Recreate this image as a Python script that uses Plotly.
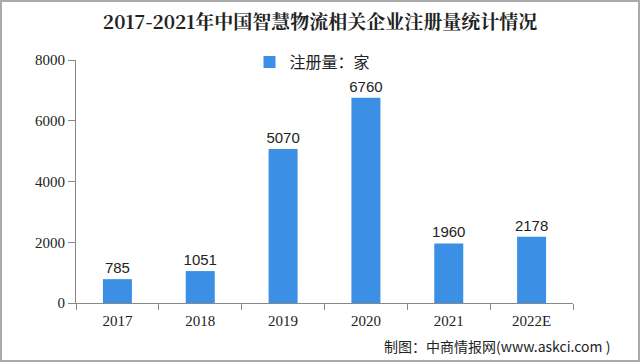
import plotly.graph_objects as go

years = ["2017", "2018", "2019", "2020", "2021", "2022E"]
counts = [785, 1051, 5070, 6760, 1960, 2178]
series_name = "注册量：家"
title = "2017-2021年中国智慧物流相关企业注册量统计情况"
source = "制图：中商情报网(www.askci.com )"

L, R, T, B = 76, 67, 60, 60
PW, PH = 640 - L - R, 363 - T - B

fig = go.Figure()
fig.add_trace(go.Bar(
    x=years, y=counts, name=series_name,
    marker=dict(color="#3b8fe4", line=dict(width=0)),
    text=[str(v) for v in counts], textposition="outside",
    constraintext="none",
    textfont=dict(family="Liberation Sans, Arial", size=15, color="#222"),
    cliponaxis=False,
))

fig.update_layout(
    width=640, height=363,
    margin=dict(l=L, r=R, t=T, b=B, autoexpand=False),
    paper_bgcolor="white", plot_bgcolor="white",
    bargap=0.65,
    showlegend=True,
    legend=dict(orientation="h", x=0.5 - 12 / PW, xanchor="center", y=(363 - B - 62) / PH,
                yanchor="middle",
                font=dict(family="Noto Sans CJK SC", size=16, color="#222"),
                itemwidth=30, bgcolor="rgba(0,0,0,0)"),
    title=dict(text="<b>" + title + "</b>", x=0.5, xanchor="center", y=1 - 22 / 363, yanchor="middle",
               font=dict(family="Noto Serif CJK SC, Noto Sans CJK SC", size=19, color="#222")),
    xaxis=dict(showline=True, linecolor="#888", linewidth=1, ticks="outside",
               tickson="boundaries", ticklen=6, tickcolor="#888", automargin=False,
               ticklabelstandoff=4,
               tickfont=dict(family="Liberation Serif, Times New Roman", size=15, color="#222"),
               showgrid=False),
    yaxis=dict(range=[0, 8000], tickvals=[0, 2000, 4000, 6000, 8000],
               showline=True, linecolor="#888", linewidth=1, ticks="outside", automargin=False,
               ticklen=7, tickcolor="#888", showgrid=False, zeroline=False,
               tickfont=dict(family="Liberation Serif, Times New Roman", size=15, color="#222")),
    annotations=[dict(text=source, xref="paper", yref="paper", x=(612 - L) / PW,
                      y=(363 - B - 346) / PH,
                      xanchor="right", yanchor="middle", showarrow=False,
                      font=dict(family="Noto Sans CJK SC", size=14, color="#222"))],
    shapes=[dict(type="rect", xref="paper", yref="paper",
                 x0=(1 - L) / PW, x1=(639 - L) / PW,
                 y0=(363 - B - 361) / PH, y1=(363 - B - 1) / PH,
                 line=dict(color="#aaa", width=2))],
)

fig.write_html("out.html", config={"displayModeBar": False},
               post_script="document.body.style.margin='0';")
